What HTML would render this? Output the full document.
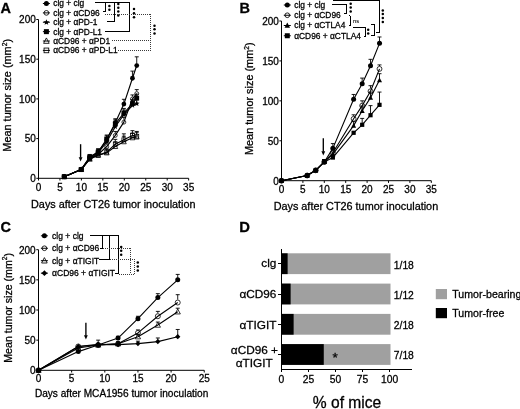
<!DOCTYPE html><html><head><meta charset="utf-8"><style>html,body{margin:0;padding:0;background:#fff;}svg{display:block;}</style></head><body>
<svg width="520" height="409" viewBox="0 0 520 409" font-family='"Liberation Sans", Arial, Helvetica, sans-serif' fill="#000"><style>text{stroke:#000;stroke-width:0.28px;}</style>
<rect width="520" height="409" fill="#fff"/>
<text x="0.60" y="12.80" font-size="14.5" text-anchor="start" font-weight="bold">A</text>
<line x1="38.50" y1="19.50" x2="38.50" y2="178.80" stroke="#000" stroke-width="1"/>
<line x1="38.00" y1="178.30" x2="188.65" y2="178.30" stroke="#000" stroke-width="1"/>
<line x1="36.30" y1="178.30" x2="38.50" y2="178.30" stroke="#000" stroke-width="1"/>
<text x="35.80" y="182.10" font-size="10" text-anchor="end" font-weight="normal">0</text>
<line x1="36.30" y1="138.60" x2="38.50" y2="138.60" stroke="#000" stroke-width="1"/>
<text x="35.80" y="142.40" font-size="10" text-anchor="end" font-weight="normal">50</text>
<line x1="36.30" y1="98.90" x2="38.50" y2="98.90" stroke="#000" stroke-width="1"/>
<text x="35.80" y="102.70" font-size="10" text-anchor="end" font-weight="normal">100</text>
<line x1="36.30" y1="59.20" x2="38.50" y2="59.20" stroke="#000" stroke-width="1"/>
<text x="35.80" y="63.00" font-size="10" text-anchor="end" font-weight="normal">150</text>
<line x1="36.30" y1="19.50" x2="38.50" y2="19.50" stroke="#000" stroke-width="1"/>
<text x="35.80" y="23.30" font-size="10" text-anchor="end" font-weight="normal">200</text>
<line x1="38.50" y1="178.30" x2="38.50" y2="180.50" stroke="#000" stroke-width="1"/>
<text x="38.50" y="190.80" font-size="10" text-anchor="middle" font-weight="normal">0</text>
<line x1="59.95" y1="178.30" x2="59.95" y2="180.50" stroke="#000" stroke-width="1"/>
<text x="59.95" y="190.80" font-size="10" text-anchor="middle" font-weight="normal">5</text>
<line x1="81.40" y1="178.30" x2="81.40" y2="180.50" stroke="#000" stroke-width="1"/>
<text x="81.40" y="190.80" font-size="10" text-anchor="middle" font-weight="normal">10</text>
<line x1="102.85" y1="178.30" x2="102.85" y2="180.50" stroke="#000" stroke-width="1"/>
<text x="102.85" y="190.80" font-size="10" text-anchor="middle" font-weight="normal">15</text>
<line x1="124.30" y1="178.30" x2="124.30" y2="180.50" stroke="#000" stroke-width="1"/>
<text x="124.30" y="190.80" font-size="10" text-anchor="middle" font-weight="normal">20</text>
<line x1="145.75" y1="178.30" x2="145.75" y2="180.50" stroke="#000" stroke-width="1"/>
<text x="145.75" y="190.80" font-size="10" text-anchor="middle" font-weight="normal">25</text>
<line x1="167.20" y1="178.30" x2="167.20" y2="180.50" stroke="#000" stroke-width="1"/>
<text x="167.20" y="190.80" font-size="10" text-anchor="middle" font-weight="normal">30</text>
<line x1="188.65" y1="178.30" x2="188.65" y2="180.50" stroke="#000" stroke-width="1"/>
<text x="188.65" y="190.80" font-size="10" text-anchor="middle" font-weight="normal">35</text>
<text transform="translate(11.40,95.30) rotate(-90)" font-size="10.9" text-anchor="middle">Mean tumor size (mm<tspan font-size="6.76" dy="-4.14">2</tspan><tspan dy="4.14">)</tspan></text>
<text x="113.30" y="207.90" font-size="10.85" text-anchor="middle" font-weight="normal">Days after CT26 tumor inoculation</text>
<line x1="87.77" y1="156.07" x2="91.77" y2="156.07" stroke="#000" stroke-width="0.9"/>
<line x1="96.13" y1="152.89" x2="100.13" y2="152.89" stroke="#000" stroke-width="0.9"/>
<line x1="106.71" y1="149.70" x2="106.71" y2="148.92" stroke="#000" stroke-width="0.9"/>
<line x1="104.71" y1="148.92" x2="108.71" y2="148.92" stroke="#000" stroke-width="0.9"/>
<line x1="115.29" y1="141.76" x2="115.29" y2="139.39" stroke="#000" stroke-width="0.9"/>
<line x1="113.29" y1="139.39" x2="117.29" y2="139.39" stroke="#000" stroke-width="0.9"/>
<line x1="123.87" y1="137.39" x2="123.87" y2="133.84" stroke="#000" stroke-width="0.9"/>
<line x1="121.87" y1="133.84" x2="125.87" y2="133.84" stroke="#000" stroke-width="0.9"/>
<line x1="132.45" y1="133.02" x2="132.45" y2="130.66" stroke="#000" stroke-width="0.9"/>
<line x1="130.45" y1="130.66" x2="134.45" y2="130.66" stroke="#000" stroke-width="0.9"/>
<line x1="136.74" y1="133.82" x2="136.74" y2="131.45" stroke="#000" stroke-width="0.9"/>
<line x1="134.74" y1="131.45" x2="138.74" y2="131.45" stroke="#000" stroke-width="0.9"/>
<polyline points="64.24,176.71 81.19,169.57 89.77,158.45 98.13,155.27 106.71,152.10 115.29,144.16 123.87,139.79 132.45,135.42 136.74,136.22" fill="none" stroke="#000" stroke-width="1.15" stroke-linejoin="round"/>
<rect x="62.29" y="174.76" width="3.90" height="3.90" fill="none" stroke="#000" stroke-width="0.8"/>
<rect x="79.24" y="167.62" width="3.90" height="3.90" fill="none" stroke="#000" stroke-width="0.8"/>
<rect x="87.82" y="156.50" width="3.90" height="3.90" fill="none" stroke="#000" stroke-width="0.8"/>
<rect x="96.18" y="153.32" width="3.90" height="3.90" fill="none" stroke="#000" stroke-width="0.8"/>
<rect x="104.76" y="150.15" width="3.90" height="3.90" fill="none" stroke="#000" stroke-width="0.8"/>
<rect x="113.34" y="142.21" width="3.90" height="3.90" fill="none" stroke="#000" stroke-width="0.8"/>
<rect x="121.92" y="137.84" width="3.90" height="3.90" fill="none" stroke="#000" stroke-width="0.8"/>
<rect x="130.50" y="133.47" width="3.90" height="3.90" fill="none" stroke="#000" stroke-width="0.8"/>
<rect x="134.79" y="134.27" width="3.90" height="3.90" fill="none" stroke="#000" stroke-width="0.8"/>
<line x1="87.77" y1="156.86" x2="91.77" y2="156.86" stroke="#000" stroke-width="0.9"/>
<line x1="96.13" y1="152.89" x2="100.13" y2="152.89" stroke="#000" stroke-width="0.9"/>
<line x1="106.71" y1="150.49" x2="106.71" y2="149.72" stroke="#000" stroke-width="0.9"/>
<line x1="104.71" y1="149.72" x2="108.71" y2="149.72" stroke="#000" stroke-width="0.9"/>
<line x1="115.29" y1="144.14" x2="115.29" y2="141.78" stroke="#000" stroke-width="0.9"/>
<line x1="113.29" y1="141.78" x2="117.29" y2="141.78" stroke="#000" stroke-width="0.9"/>
<line x1="123.87" y1="139.38" x2="123.87" y2="136.22" stroke="#000" stroke-width="0.9"/>
<line x1="121.87" y1="136.22" x2="125.87" y2="136.22" stroke="#000" stroke-width="0.9"/>
<line x1="132.45" y1="135.41" x2="132.45" y2="133.04" stroke="#000" stroke-width="0.9"/>
<line x1="130.45" y1="133.04" x2="134.45" y2="133.04" stroke="#000" stroke-width="0.9"/>
<line x1="136.74" y1="134.61" x2="136.74" y2="132.25" stroke="#000" stroke-width="0.9"/>
<line x1="134.74" y1="132.25" x2="138.74" y2="132.25" stroke="#000" stroke-width="0.9"/>
<polyline points="64.24,176.71 81.19,169.57 89.77,159.24 98.13,155.27 106.71,152.89 115.29,146.54 123.87,141.78 132.45,137.81 136.74,137.01" fill="none" stroke="#000" stroke-width="1.15" stroke-linejoin="round"/>
<polygon points="64.24,174.07 66.64,178.69 61.84,178.69" fill="none" stroke="#000" stroke-width="0.8"/>
<polygon points="81.19,166.93 83.59,171.55 78.79,171.55" fill="none" stroke="#000" stroke-width="0.8"/>
<polygon points="89.77,156.60 92.17,161.22 87.37,161.22" fill="none" stroke="#000" stroke-width="0.8"/>
<polygon points="98.13,152.63 100.53,157.25 95.73,157.25" fill="none" stroke="#000" stroke-width="0.8"/>
<polygon points="106.71,150.25 109.11,154.87 104.31,154.87" fill="none" stroke="#000" stroke-width="0.8"/>
<polygon points="115.29,143.90 117.69,148.52 112.89,148.52" fill="none" stroke="#000" stroke-width="0.8"/>
<polygon points="123.87,139.14 126.27,143.76 121.47,143.76" fill="none" stroke="#000" stroke-width="0.8"/>
<polygon points="132.45,135.17 134.85,139.79 130.05,139.79" fill="none" stroke="#000" stroke-width="0.8"/>
<polygon points="136.74,134.37 139.14,138.99 134.34,138.99" fill="none" stroke="#000" stroke-width="0.8"/>
<line x1="87.77" y1="156.07" x2="91.77" y2="156.07" stroke="#000" stroke-width="0.9"/>
<line x1="98.13" y1="152.08" x2="98.13" y2="151.30" stroke="#000" stroke-width="0.9"/>
<line x1="96.13" y1="151.30" x2="100.13" y2="151.30" stroke="#000" stroke-width="0.9"/>
<line x1="106.71" y1="144.14" x2="106.71" y2="142.57" stroke="#000" stroke-width="0.9"/>
<line x1="104.71" y1="142.57" x2="108.71" y2="142.57" stroke="#000" stroke-width="0.9"/>
<line x1="115.29" y1="133.02" x2="115.29" y2="131.45" stroke="#000" stroke-width="0.9"/>
<line x1="113.29" y1="131.45" x2="117.29" y2="131.45" stroke="#000" stroke-width="0.9"/>
<line x1="123.87" y1="119.76" x2="123.87" y2="117.40" stroke="#000" stroke-width="0.9"/>
<line x1="121.87" y1="117.40" x2="125.87" y2="117.40" stroke="#000" stroke-width="0.9"/>
<line x1="132.45" y1="96.50" x2="132.45" y2="94.93" stroke="#000" stroke-width="0.9"/>
<line x1="130.45" y1="94.93" x2="134.45" y2="94.93" stroke="#000" stroke-width="0.9"/>
<line x1="136.74" y1="91.18" x2="136.74" y2="89.61" stroke="#000" stroke-width="0.9"/>
<line x1="134.74" y1="89.61" x2="138.74" y2="89.61" stroke="#000" stroke-width="0.9"/>
<polyline points="64.24,176.71 81.19,169.57 89.77,158.45 98.13,154.48 106.71,146.54 115.29,135.42 123.87,122.16 132.45,98.90 136.74,93.58" fill="none" stroke="#000" stroke-width="1.15" stroke-linejoin="round"/>
<circle cx="64.24" cy="176.71" r="1.95" fill="none" stroke="#000" stroke-width="0.8"/>
<circle cx="81.19" cy="169.57" r="1.95" fill="none" stroke="#000" stroke-width="0.8"/>
<circle cx="89.77" cy="158.45" r="1.95" fill="none" stroke="#000" stroke-width="0.8"/>
<circle cx="98.13" cy="154.48" r="1.95" fill="none" stroke="#000" stroke-width="0.8"/>
<circle cx="106.71" cy="146.54" r="1.95" fill="none" stroke="#000" stroke-width="0.8"/>
<circle cx="115.29" cy="135.42" r="1.95" fill="none" stroke="#000" stroke-width="0.8"/>
<circle cx="123.87" cy="122.16" r="1.95" fill="none" stroke="#000" stroke-width="0.8"/>
<circle cx="132.45" cy="98.90" r="1.95" fill="none" stroke="#000" stroke-width="0.8"/>
<circle cx="136.74" cy="93.58" r="1.95" fill="none" stroke="#000" stroke-width="0.8"/>
<line x1="89.77" y1="158.45" x2="89.77" y2="156.07" stroke="#000" stroke-width="0.9"/>
<line x1="87.77" y1="156.07" x2="91.77" y2="156.07" stroke="#000" stroke-width="0.9"/>
<line x1="98.13" y1="152.89" x2="98.13" y2="149.72" stroke="#000" stroke-width="0.9"/>
<line x1="96.13" y1="149.72" x2="100.13" y2="149.72" stroke="#000" stroke-width="0.9"/>
<line x1="106.71" y1="141.78" x2="106.71" y2="137.81" stroke="#000" stroke-width="0.9"/>
<line x1="104.71" y1="137.81" x2="108.71" y2="137.81" stroke="#000" stroke-width="0.9"/>
<line x1="115.29" y1="126.69" x2="115.29" y2="122.72" stroke="#000" stroke-width="0.9"/>
<line x1="113.29" y1="122.72" x2="117.29" y2="122.72" stroke="#000" stroke-width="0.9"/>
<line x1="123.87" y1="114.78" x2="123.87" y2="110.02" stroke="#000" stroke-width="0.9"/>
<line x1="121.87" y1="110.02" x2="125.87" y2="110.02" stroke="#000" stroke-width="0.9"/>
<line x1="132.45" y1="105.25" x2="132.45" y2="101.28" stroke="#000" stroke-width="0.9"/>
<line x1="130.45" y1="101.28" x2="134.45" y2="101.28" stroke="#000" stroke-width="0.9"/>
<line x1="136.74" y1="103.66" x2="136.74" y2="99.69" stroke="#000" stroke-width="0.9"/>
<line x1="134.74" y1="99.69" x2="138.74" y2="99.69" stroke="#000" stroke-width="0.9"/>
<polyline points="64.24,176.71 81.19,169.57 89.77,158.45 98.13,152.89 106.71,141.78 115.29,126.69 123.87,114.78 132.45,105.25 136.74,103.66" fill="none" stroke="#000" stroke-width="1.15" stroke-linejoin="round"/>
<polygon points="64.24,173.71 65.02,175.64 67.09,175.78 65.50,177.12 66.00,179.14 64.24,178.03 62.48,179.14 62.98,177.12 61.39,175.78 63.46,175.64" fill="#000"/>
<polygon points="81.19,166.57 81.96,168.50 84.04,168.64 82.44,169.97 82.95,171.99 81.19,170.89 79.42,171.99 79.93,169.97 78.33,168.64 80.41,168.50" fill="#000"/>
<polygon points="89.77,155.45 90.54,157.38 92.62,157.52 91.02,158.86 91.53,160.88 89.77,159.77 88.00,160.88 88.51,158.86 86.91,157.52 88.99,157.38" fill="#000"/>
<polygon points="98.13,149.89 98.91,151.82 100.98,151.96 99.39,153.30 99.89,155.32 98.13,154.21 96.37,155.32 96.88,153.30 95.28,151.96 97.36,151.82" fill="#000"/>
<polygon points="106.71,138.78 107.49,140.71 109.56,140.85 107.97,142.18 108.47,144.20 106.71,143.10 104.95,144.20 105.46,142.18 103.86,140.85 105.94,140.71" fill="#000"/>
<polygon points="115.29,123.69 116.07,125.62 118.14,125.76 116.55,127.10 117.05,129.12 115.29,128.01 113.53,129.12 114.04,127.10 112.44,125.76 114.52,125.62" fill="#000"/>
<polygon points="123.87,111.78 124.65,113.71 126.72,113.85 125.13,115.19 125.63,117.21 123.87,116.10 122.11,117.21 122.62,115.19 121.02,113.85 123.10,113.71" fill="#000"/>
<polygon points="132.45,102.25 133.23,104.18 135.30,104.32 133.71,105.66 134.21,107.68 132.45,106.57 130.69,107.68 131.20,105.66 129.60,104.32 131.68,104.18" fill="#000"/>
<polygon points="136.74,100.66 137.52,102.60 139.59,102.74 138.00,104.07 138.50,106.09 136.74,104.98 134.98,106.09 135.49,104.07 133.89,102.74 135.97,102.60" fill="#000"/>
<line x1="89.77" y1="156.86" x2="89.77" y2="154.48" stroke="#000" stroke-width="0.9"/>
<line x1="87.77" y1="154.48" x2="91.77" y2="154.48" stroke="#000" stroke-width="0.9"/>
<line x1="98.13" y1="152.10" x2="98.13" y2="148.92" stroke="#000" stroke-width="0.9"/>
<line x1="96.13" y1="148.92" x2="100.13" y2="148.92" stroke="#000" stroke-width="0.9"/>
<line x1="106.71" y1="139.00" x2="106.71" y2="135.03" stroke="#000" stroke-width="0.9"/>
<line x1="104.71" y1="135.03" x2="108.71" y2="135.03" stroke="#000" stroke-width="0.9"/>
<line x1="115.29" y1="123.83" x2="115.29" y2="119.86" stroke="#000" stroke-width="0.9"/>
<line x1="113.29" y1="119.86" x2="117.29" y2="119.86" stroke="#000" stroke-width="0.9"/>
<line x1="123.87" y1="113.19" x2="123.87" y2="108.43" stroke="#000" stroke-width="0.9"/>
<line x1="121.87" y1="108.43" x2="125.87" y2="108.43" stroke="#000" stroke-width="0.9"/>
<line x1="132.45" y1="103.66" x2="132.45" y2="99.69" stroke="#000" stroke-width="0.9"/>
<line x1="130.45" y1="99.69" x2="134.45" y2="99.69" stroke="#000" stroke-width="0.9"/>
<line x1="136.74" y1="98.11" x2="136.74" y2="94.14" stroke="#000" stroke-width="0.9"/>
<line x1="134.74" y1="94.14" x2="138.74" y2="94.14" stroke="#000" stroke-width="0.9"/>
<polyline points="64.24,176.71 81.19,169.57 89.77,156.86 98.13,152.10 106.71,139.00 115.29,123.83 123.87,113.19 132.45,103.66 136.74,98.11" fill="none" stroke="#000" stroke-width="1.15" stroke-linejoin="round"/>
<rect x="61.84" y="174.31" width="4.80" height="4.80" fill="#000"/>
<rect x="78.79" y="167.17" width="4.80" height="4.80" fill="#000"/>
<rect x="87.37" y="154.46" width="4.80" height="4.80" fill="#000"/>
<rect x="95.73" y="149.70" width="4.80" height="4.80" fill="#000"/>
<rect x="104.31" y="136.60" width="4.80" height="4.80" fill="#000"/>
<rect x="112.89" y="121.43" width="4.80" height="4.80" fill="#000"/>
<rect x="121.47" y="110.79" width="4.80" height="4.80" fill="#000"/>
<rect x="130.05" y="101.26" width="4.80" height="4.80" fill="#000"/>
<rect x="134.34" y="95.71" width="4.80" height="4.80" fill="#000"/>
<line x1="89.77" y1="157.66" x2="89.77" y2="155.27" stroke="#000" stroke-width="0.9"/>
<line x1="87.77" y1="155.27" x2="91.77" y2="155.27" stroke="#000" stroke-width="0.9"/>
<line x1="98.13" y1="152.10" x2="98.13" y2="148.92" stroke="#000" stroke-width="0.9"/>
<line x1="96.13" y1="148.92" x2="100.13" y2="148.92" stroke="#000" stroke-width="0.9"/>
<line x1="106.71" y1="139.79" x2="106.71" y2="135.82" stroke="#000" stroke-width="0.9"/>
<line x1="104.71" y1="135.82" x2="108.71" y2="135.82" stroke="#000" stroke-width="0.9"/>
<line x1="115.29" y1="122.72" x2="115.29" y2="118.75" stroke="#000" stroke-width="0.9"/>
<line x1="113.29" y1="118.75" x2="117.29" y2="118.75" stroke="#000" stroke-width="0.9"/>
<line x1="123.87" y1="104.06" x2="123.87" y2="99.30" stroke="#000" stroke-width="0.9"/>
<line x1="121.87" y1="99.30" x2="125.87" y2="99.30" stroke="#000" stroke-width="0.9"/>
<line x1="132.45" y1="78.26" x2="132.45" y2="71.11" stroke="#000" stroke-width="0.9"/>
<line x1="130.45" y1="71.11" x2="134.45" y2="71.11" stroke="#000" stroke-width="0.9"/>
<line x1="136.74" y1="65.55" x2="136.74" y2="56.82" stroke="#000" stroke-width="0.9"/>
<line x1="134.74" y1="56.82" x2="138.74" y2="56.82" stroke="#000" stroke-width="0.9"/>
<polyline points="64.24,176.71 81.19,169.57 89.77,157.66 98.13,152.10 106.71,139.79 115.29,122.72 123.87,104.06 132.45,78.26 136.74,65.55" fill="none" stroke="#000" stroke-width="1.15" stroke-linejoin="round"/>
<circle cx="64.24" cy="176.71" r="2.40" fill="#000"/>
<circle cx="81.19" cy="169.57" r="2.40" fill="#000"/>
<circle cx="89.77" cy="157.66" r="2.40" fill="#000"/>
<circle cx="98.13" cy="152.10" r="2.40" fill="#000"/>
<circle cx="106.71" cy="139.79" r="2.40" fill="#000"/>
<circle cx="115.29" cy="122.72" r="2.40" fill="#000"/>
<circle cx="123.87" cy="104.06" r="2.40" fill="#000"/>
<circle cx="132.45" cy="78.26" r="2.40" fill="#000"/>
<circle cx="136.74" cy="65.55" r="2.40" fill="#000"/>
<line x1="80.60" y1="144.20" x2="80.60" y2="157.70" stroke="#000" stroke-width="1.35"/>
<polygon points="78.70,157.20 82.50,157.20 80.60,161.50" fill="#000"/>
<line x1="42.90" y1="3.50" x2="49.90" y2="3.50" stroke="#000" stroke-width="1"/>
<circle cx="46.40" cy="3.50" r="2.50" fill="#000"/>
<text x="53.20" y="6.44" font-size="8.4" text-anchor="start" font-weight="normal">clg + clg</text>
<line x1="42.90" y1="12.88" x2="49.90" y2="12.88" stroke="#000" stroke-width="1"/>
<circle cx="46.40" cy="12.88" r="2.35" fill="none" stroke="#000" stroke-width="0.85"/>
<text x="53.20" y="15.82" font-size="8.4" text-anchor="start" font-weight="normal">clg + αCD96</text>
<line x1="42.90" y1="22.26" x2="49.90" y2="22.26" stroke="#000" stroke-width="1"/>
<polygon points="46.40,19.14 47.21,21.15 49.37,21.29 47.71,22.68 48.24,24.79 46.40,23.64 44.56,24.79 45.09,22.68 43.43,21.29 45.59,21.15" fill="#000"/>
<text x="53.20" y="25.20" font-size="8.4" text-anchor="start" font-weight="normal"> clg + αPD-1</text>
<line x1="42.90" y1="31.64" x2="49.90" y2="31.64" stroke="#000" stroke-width="1"/>
<rect x="43.90" y="29.14" width="5.00" height="5.00" fill="#000"/>
<text x="53.20" y="34.58" font-size="8.4" text-anchor="start" font-weight="normal">clg + αPD-L1</text>
<line x1="42.90" y1="41.02" x2="49.90" y2="41.02" stroke="#000" stroke-width="1"/>
<polygon points="46.40,37.94 49.20,43.33 43.60,43.33" fill="none" stroke="#000" stroke-width="0.85"/>
<text x="53.20" y="43.96" font-size="8.4" text-anchor="start" font-weight="normal">αCD96 + αPD1</text>
<line x1="42.90" y1="50.40" x2="49.90" y2="50.40" stroke="#000" stroke-width="1"/>
<rect x="44.05" y="48.05" width="4.70" height="4.70" fill="none" stroke="#000" stroke-width="0.85"/>
<text x="53.20" y="53.34" font-size="8.4" text-anchor="start" font-weight="normal">αCD96 + αPD-L1</text>
<line x1="95" y1="2.5" x2="129" y2="2.5" stroke="#000" stroke-width="1"/>
<line x1="105.5" y1="2" x2="105.5" y2="12" stroke="#000" stroke-width="1"/>
<line x1="103" y1="11.5" x2="106" y2="11.5" stroke="#000" stroke-width="1"/>
<line x1="114.5" y1="2" x2="114.5" y2="22" stroke="#000" stroke-width="1"/>
<line x1="107" y1="21.5" x2="115" y2="21.5" stroke="#000" stroke-width="1"/>
<line x1="129.5" y1="2" x2="129.5" y2="32" stroke="#000" stroke-width="1"/>
<line x1="105" y1="31.5" x2="130" y2="31.5" stroke="#000" stroke-width="1"/>
<circle cx="109.40" cy="6.10" r="1.25" fill="#000"/>
<circle cx="109.40" cy="9.80" r="1.25" fill="#000"/>
<circle cx="118.30" cy="4.00" r="1.25" fill="#000"/>
<circle cx="118.30" cy="7.70" r="1.25" fill="#000"/>
<circle cx="118.30" cy="11.60" r="1.25" fill="#000"/>
<circle cx="118.30" cy="15.50" r="1.25" fill="#000"/>
<circle cx="134.00" cy="9.10" r="1.25" fill="#000"/>
<circle cx="134.00" cy="13.20" r="1.25" fill="#000"/>
<circle cx="134.00" cy="17.20" r="1.25" fill="#000"/>
<circle cx="154.50" cy="25.70" r="1.25" fill="#000"/>
<circle cx="154.50" cy="29.30" r="1.25" fill="#000"/>
<circle cx="154.50" cy="33.40" r="1.25" fill="#000"/>
<line x1="105" y1="14.5" x2="150" y2="14.5" stroke="#3a3a3a" stroke-width="1" stroke-dasharray="1,1"/>
<line x1="150.5" y1="14" x2="150.5" y2="51" stroke="#3a3a3a" stroke-width="1" stroke-dasharray="1,1"/>
<line x1="112" y1="40.5" x2="150" y2="40.5" stroke="#3a3a3a" stroke-width="1" stroke-dasharray="1,1"/>
<line x1="118" y1="50.5" x2="150" y2="50.5" stroke="#3a3a3a" stroke-width="1" stroke-dasharray="1,1"/>
<text x="239.40" y="12.80" font-size="14.5" text-anchor="start" font-weight="bold">B</text>
<line x1="281.50" y1="21.00" x2="281.50" y2="181.20" stroke="#000" stroke-width="1"/>
<line x1="281.00" y1="180.70" x2="431.30" y2="180.70" stroke="#000" stroke-width="1"/>
<line x1="279.30" y1="180.70" x2="281.50" y2="180.70" stroke="#000" stroke-width="1"/>
<text x="278.90" y="184.50" font-size="10" text-anchor="end" font-weight="normal">0</text>
<line x1="279.30" y1="140.77" x2="281.50" y2="140.77" stroke="#000" stroke-width="1"/>
<text x="278.90" y="144.57" font-size="10" text-anchor="end" font-weight="normal">50</text>
<line x1="279.30" y1="100.85" x2="281.50" y2="100.85" stroke="#000" stroke-width="1"/>
<text x="278.90" y="104.65" font-size="10" text-anchor="end" font-weight="normal">100</text>
<line x1="279.30" y1="60.92" x2="281.50" y2="60.92" stroke="#000" stroke-width="1"/>
<text x="278.90" y="64.72" font-size="10" text-anchor="end" font-weight="normal">150</text>
<line x1="279.30" y1="21.00" x2="281.50" y2="21.00" stroke="#000" stroke-width="1"/>
<text x="278.90" y="24.80" font-size="10" text-anchor="end" font-weight="normal">200</text>
<line x1="281.50" y1="180.70" x2="281.50" y2="182.90" stroke="#000" stroke-width="1"/>
<text x="281.50" y="192.50" font-size="10" text-anchor="middle" font-weight="normal">0</text>
<line x1="302.90" y1="180.70" x2="302.90" y2="182.90" stroke="#000" stroke-width="1"/>
<text x="302.90" y="192.50" font-size="10" text-anchor="middle" font-weight="normal">5</text>
<line x1="324.30" y1="180.70" x2="324.30" y2="182.90" stroke="#000" stroke-width="1"/>
<text x="324.30" y="192.50" font-size="10" text-anchor="middle" font-weight="normal">10</text>
<line x1="345.70" y1="180.70" x2="345.70" y2="182.90" stroke="#000" stroke-width="1"/>
<text x="345.70" y="192.50" font-size="10" text-anchor="middle" font-weight="normal">15</text>
<line x1="367.10" y1="180.70" x2="367.10" y2="182.90" stroke="#000" stroke-width="1"/>
<text x="367.10" y="192.50" font-size="10" text-anchor="middle" font-weight="normal">20</text>
<line x1="388.50" y1="180.70" x2="388.50" y2="182.90" stroke="#000" stroke-width="1"/>
<text x="388.50" y="192.50" font-size="10" text-anchor="middle" font-weight="normal">25</text>
<line x1="409.90" y1="180.70" x2="409.90" y2="182.90" stroke="#000" stroke-width="1"/>
<text x="409.90" y="192.50" font-size="10" text-anchor="middle" font-weight="normal">30</text>
<line x1="431.30" y1="180.70" x2="431.30" y2="182.90" stroke="#000" stroke-width="1"/>
<text x="431.30" y="192.50" font-size="10" text-anchor="middle" font-weight="normal">35</text>
<text transform="translate(253.40,98.70) rotate(-90)" font-size="10.9" text-anchor="middle">Mean tumor size (mm<tspan font-size="6.76" dy="-4.14">2</tspan><tspan dy="4.14">)</tspan></text>
<text x="355.90" y="210.30" font-size="10.85" text-anchor="middle" font-weight="normal">Days after CT26 tumor inoculation</text>
<line x1="324.30" y1="161.94" x2="324.30" y2="159.54" stroke="#000" stroke-width="0.9"/>
<line x1="322.30" y1="159.54" x2="326.30" y2="159.54" stroke="#000" stroke-width="0.9"/>
<line x1="332.86" y1="157.54" x2="332.86" y2="155.15" stroke="#000" stroke-width="0.9"/>
<line x1="330.86" y1="155.15" x2="334.86" y2="155.15" stroke="#000" stroke-width="0.9"/>
<line x1="362.18" y1="124.80" x2="362.18" y2="118.42" stroke="#000" stroke-width="0.9"/>
<line x1="360.18" y1="118.42" x2="364.18" y2="118.42" stroke="#000" stroke-width="0.9"/>
<line x1="370.52" y1="115.22" x2="370.52" y2="105.64" stroke="#000" stroke-width="0.9"/>
<line x1="368.52" y1="105.64" x2="372.52" y2="105.64" stroke="#000" stroke-width="0.9"/>
<line x1="379.51" y1="104.84" x2="379.51" y2="92.07" stroke="#000" stroke-width="0.9"/>
<line x1="377.51" y1="92.07" x2="381.51" y2="92.07" stroke="#000" stroke-width="0.9"/>
<polyline points="281.50,180.70 307.18,175.51 315.74,170.32 324.30,161.94 332.86,157.54 353.62,132.79 362.18,124.80 370.52,115.22 379.51,104.84" fill="none" stroke="#000" stroke-width="1.1" stroke-linejoin="round"/>
<rect x="279.40" y="178.60" width="4.20" height="4.20" fill="#000"/>
<rect x="305.08" y="173.41" width="4.20" height="4.20" fill="#000"/>
<rect x="313.64" y="168.22" width="4.20" height="4.20" fill="#000"/>
<rect x="322.20" y="159.84" width="4.20" height="4.20" fill="#000"/>
<rect x="330.76" y="155.44" width="4.20" height="4.20" fill="#000"/>
<rect x="351.52" y="130.69" width="4.20" height="4.20" fill="#000"/>
<rect x="360.08" y="122.70" width="4.20" height="4.20" fill="#000"/>
<rect x="368.42" y="113.12" width="4.20" height="4.20" fill="#000"/>
<rect x="377.41" y="102.74" width="4.20" height="4.20" fill="#000"/>
<line x1="324.30" y1="161.94" x2="324.30" y2="159.54" stroke="#000" stroke-width="0.9"/>
<line x1="322.30" y1="159.54" x2="326.30" y2="159.54" stroke="#000" stroke-width="0.9"/>
<line x1="332.86" y1="154.35" x2="332.86" y2="151.95" stroke="#000" stroke-width="0.9"/>
<line x1="330.86" y1="151.95" x2="334.86" y2="151.95" stroke="#000" stroke-width="0.9"/>
<line x1="353.62" y1="125.60" x2="353.62" y2="121.61" stroke="#000" stroke-width="0.9"/>
<line x1="351.62" y1="121.61" x2="355.62" y2="121.61" stroke="#000" stroke-width="0.9"/>
<line x1="362.18" y1="110.83" x2="362.18" y2="106.04" stroke="#000" stroke-width="0.9"/>
<line x1="360.18" y1="106.04" x2="364.18" y2="106.04" stroke="#000" stroke-width="0.9"/>
<line x1="370.52" y1="97.66" x2="370.52" y2="92.07" stroke="#000" stroke-width="0.9"/>
<line x1="368.52" y1="92.07" x2="372.52" y2="92.07" stroke="#000" stroke-width="0.9"/>
<line x1="379.51" y1="80.09" x2="379.51" y2="73.70" stroke="#000" stroke-width="0.9"/>
<line x1="377.51" y1="73.70" x2="381.51" y2="73.70" stroke="#000" stroke-width="0.9"/>
<polyline points="281.50,180.70 307.18,175.51 315.74,170.32 324.30,161.94 332.86,154.35 353.62,125.60 362.18,110.83 370.52,97.66 379.51,80.09" fill="none" stroke="#000" stroke-width="1.1" stroke-linejoin="round"/>
<polygon points="281.50,178.05 284.03,182.82 278.97,182.82" fill="#000"/>
<polygon points="307.18,172.86 309.71,177.63 304.65,177.63" fill="#000"/>
<polygon points="315.74,167.67 318.27,172.44 313.21,172.44" fill="#000"/>
<polygon points="324.30,159.29 326.83,164.05 321.77,164.05" fill="#000"/>
<polygon points="332.86,151.70 335.39,156.47 330.33,156.47" fill="#000"/>
<polygon points="353.62,122.96 356.15,127.72 351.09,127.72" fill="#000"/>
<polygon points="362.18,108.19 364.71,112.95 359.65,112.95" fill="#000"/>
<polygon points="370.52,95.01 373.05,99.77 367.99,99.77" fill="#000"/>
<polygon points="379.51,77.44 382.04,82.20 376.98,82.20" fill="#000"/>
<line x1="322.30" y1="159.54" x2="326.30" y2="159.54" stroke="#000" stroke-width="0.9"/>
<line x1="332.86" y1="149.85" x2="332.86" y2="149.56" stroke="#000" stroke-width="0.9"/>
<line x1="330.86" y1="149.56" x2="334.86" y2="149.56" stroke="#000" stroke-width="0.9"/>
<line x1="353.62" y1="115.92" x2="353.62" y2="114.82" stroke="#000" stroke-width="0.9"/>
<line x1="351.62" y1="114.82" x2="355.62" y2="114.82" stroke="#000" stroke-width="0.9"/>
<line x1="362.18" y1="102.74" x2="362.18" y2="100.85" stroke="#000" stroke-width="0.9"/>
<line x1="360.18" y1="100.85" x2="364.18" y2="100.85" stroke="#000" stroke-width="0.9"/>
<line x1="370.52" y1="88.37" x2="370.52" y2="85.68" stroke="#000" stroke-width="0.9"/>
<line x1="368.52" y1="85.68" x2="372.52" y2="85.68" stroke="#000" stroke-width="0.9"/>
<line x1="379.51" y1="66.01" x2="379.51" y2="64.92" stroke="#000" stroke-width="0.9"/>
<line x1="377.51" y1="64.92" x2="381.51" y2="64.92" stroke="#000" stroke-width="0.9"/>
<polyline points="281.50,180.70 307.18,175.51 315.74,170.32 324.30,161.94 332.86,152.75 353.62,118.82 362.18,105.64 370.52,91.27 379.51,68.91" fill="none" stroke="#000" stroke-width="1.1" stroke-linejoin="round"/>
<circle cx="281.50" cy="180.70" r="2.45" fill="none" stroke="#000" stroke-width="0.8"/>
<circle cx="307.18" cy="175.51" r="2.45" fill="none" stroke="#000" stroke-width="0.8"/>
<circle cx="315.74" cy="170.32" r="2.45" fill="none" stroke="#000" stroke-width="0.8"/>
<circle cx="324.30" cy="161.94" r="2.45" fill="none" stroke="#000" stroke-width="0.8"/>
<circle cx="332.86" cy="152.75" r="2.45" fill="none" stroke="#000" stroke-width="0.8"/>
<circle cx="353.62" cy="118.82" r="2.45" fill="none" stroke="#000" stroke-width="0.8"/>
<circle cx="362.18" cy="105.64" r="2.45" fill="none" stroke="#000" stroke-width="0.8"/>
<circle cx="370.52" cy="91.27" r="2.45" fill="none" stroke="#000" stroke-width="0.8"/>
<circle cx="379.51" cy="68.91" r="2.45" fill="none" stroke="#000" stroke-width="0.8"/>
<line x1="324.30" y1="161.94" x2="324.30" y2="159.54" stroke="#000" stroke-width="0.9"/>
<line x1="322.30" y1="159.54" x2="326.30" y2="159.54" stroke="#000" stroke-width="0.9"/>
<line x1="332.86" y1="148.36" x2="332.86" y2="143.57" stroke="#000" stroke-width="0.9"/>
<line x1="330.86" y1="143.57" x2="334.86" y2="143.57" stroke="#000" stroke-width="0.9"/>
<line x1="353.62" y1="99.25" x2="353.62" y2="94.46" stroke="#000" stroke-width="0.9"/>
<line x1="351.62" y1="94.46" x2="355.62" y2="94.46" stroke="#000" stroke-width="0.9"/>
<line x1="362.18" y1="83.68" x2="362.18" y2="78.09" stroke="#000" stroke-width="0.9"/>
<line x1="360.18" y1="78.09" x2="364.18" y2="78.09" stroke="#000" stroke-width="0.9"/>
<line x1="370.52" y1="65.72" x2="370.52" y2="59.33" stroke="#000" stroke-width="0.9"/>
<line x1="368.52" y1="59.33" x2="372.52" y2="59.33" stroke="#000" stroke-width="0.9"/>
<line x1="379.51" y1="43.36" x2="379.51" y2="36.97" stroke="#000" stroke-width="0.9"/>
<line x1="377.51" y1="36.97" x2="381.51" y2="36.97" stroke="#000" stroke-width="0.9"/>
<polyline points="281.50,180.70 307.18,175.51 315.74,170.32 324.30,161.94 332.86,148.36 353.62,99.25 362.18,83.68 370.52,65.72 379.51,43.36" fill="none" stroke="#000" stroke-width="1.1" stroke-linejoin="round"/>
<circle cx="281.50" cy="180.70" r="2.50" fill="#000"/>
<circle cx="307.18" cy="175.51" r="2.50" fill="#000"/>
<circle cx="315.74" cy="170.32" r="2.50" fill="#000"/>
<circle cx="324.30" cy="161.94" r="2.50" fill="#000"/>
<circle cx="332.86" cy="148.36" r="2.50" fill="#000"/>
<circle cx="353.62" cy="99.25" r="2.50" fill="#000"/>
<circle cx="362.18" cy="83.68" r="2.50" fill="#000"/>
<circle cx="370.52" cy="65.72" r="2.50" fill="#000"/>
<circle cx="379.51" cy="43.36" r="2.50" fill="#000"/>
<line x1="323.30" y1="138.30" x2="323.30" y2="151.70" stroke="#000" stroke-width="1.35"/>
<polygon points="321.40,151.20 325.20,151.20 323.30,155.50" fill="#000"/>
<line x1="283.80" y1="5.00" x2="290.80" y2="5.00" stroke="#000" stroke-width="1"/>
<circle cx="287.30" cy="5.00" r="2.50" fill="#000"/>
<text x="294.20" y="7.94" font-size="8.4" text-anchor="start" font-weight="normal">clg + clg</text>
<line x1="283.80" y1="15.25" x2="290.80" y2="15.25" stroke="#000" stroke-width="1"/>
<circle cx="287.30" cy="15.25" r="2.35" fill="none" stroke="#000" stroke-width="0.85"/>
<text x="294.20" y="18.19" font-size="8.4" text-anchor="start" font-weight="normal">clg + αCD96</text>
<line x1="283.80" y1="25.50" x2="290.80" y2="25.50" stroke="#000" stroke-width="1"/>
<polygon points="287.30,22.62 290.05,27.80 284.55,27.80" fill="#000"/>
<text x="294.20" y="28.44" font-size="8.4" text-anchor="start" font-weight="normal"> clg + αCTLA4</text>
<line x1="283.80" y1="35.75" x2="290.80" y2="35.75" stroke="#000" stroke-width="1"/>
<rect x="284.80" y="33.25" width="5.00" height="5.00" fill="#000"/>
<text x="294.20" y="38.69" font-size="8.4" text-anchor="start" font-weight="normal"> αCD96 + αCTLA4</text>
<line x1="333" y1="0.5" x2="380" y2="0.5" stroke="#000" stroke-width="1"/>
<line x1="379.5" y1="0" x2="379.5" y2="33" stroke="#000" stroke-width="1"/>
<line x1="376" y1="32.5" x2="380" y2="32.5" stroke="#000" stroke-width="1"/>
<circle cx="382.80" cy="10.40" r="1.25" fill="#000"/>
<circle cx="382.80" cy="13.90" r="1.25" fill="#000"/>
<circle cx="382.80" cy="17.90" r="1.25" fill="#000"/>
<circle cx="382.80" cy="21.90" r="1.25" fill="#000"/>
<line x1="332" y1="4.5" x2="347" y2="4.5" stroke="#000" stroke-width="1"/>
<line x1="346.5" y1="4" x2="346.5" y2="14" stroke="#000" stroke-width="1"/>
<line x1="344" y1="13.5" x2="347" y2="13.5" stroke="#000" stroke-width="1"/>
<circle cx="350.70" cy="3.70" r="1.25" fill="#000"/>
<circle cx="350.70" cy="7.40" r="1.25" fill="#000"/>
<circle cx="350.70" cy="11.40" r="1.25" fill="#000"/>
<line x1="350.5" y1="16" x2="350.5" y2="26" stroke="#000" stroke-width="1"/>
<line x1="349" y1="15.5" x2="350" y2="15.5" stroke="#000" stroke-width="1"/>
<line x1="349" y1="25.5" x2="350" y2="25.5" stroke="#000" stroke-width="1"/>
<text x="353.10" y="22.50" font-size="5.7" text-anchor="start" font-weight="normal" style="stroke-width:0.1px">ns</text>
<line x1="353" y1="27.5" x2="366" y2="27.5" stroke="#000" stroke-width="1"/>
<line x1="365.5" y1="27" x2="365.5" y2="37" stroke="#000" stroke-width="1"/>
<line x1="364" y1="36.5" x2="366" y2="36.5" stroke="#000" stroke-width="1"/>
<circle cx="368.20" cy="29.70" r="1.25" fill="#000"/>
<circle cx="368.20" cy="33.60" r="1.25" fill="#000"/>
<line x1="371" y1="24.5" x2="374" y2="24.5" stroke="#000" stroke-width="1"/>
<line x1="374.5" y1="24" x2="374.5" y2="36" stroke="#000" stroke-width="1"/>
<line x1="371" y1="35.5" x2="374" y2="35.5" stroke="#000" stroke-width="1"/>
<text x="0.60" y="232.30" font-size="14.5" text-anchor="start" font-weight="bold">C</text>
<line x1="38.50" y1="249.70" x2="38.50" y2="370.80" stroke="#000" stroke-width="1"/>
<line x1="38.00" y1="370.30" x2="204.25" y2="370.30" stroke="#000" stroke-width="1"/>
<line x1="36.30" y1="370.30" x2="38.50" y2="370.30" stroke="#000" stroke-width="1"/>
<text x="35.60" y="374.10" font-size="10" text-anchor="end" font-weight="normal">0</text>
<line x1="36.30" y1="340.15" x2="38.50" y2="340.15" stroke="#000" stroke-width="1"/>
<text x="35.60" y="343.95" font-size="10" text-anchor="end" font-weight="normal">50</text>
<line x1="36.30" y1="310.00" x2="38.50" y2="310.00" stroke="#000" stroke-width="1"/>
<text x="35.60" y="313.80" font-size="10" text-anchor="end" font-weight="normal">100</text>
<line x1="36.30" y1="279.85" x2="38.50" y2="279.85" stroke="#000" stroke-width="1"/>
<text x="35.60" y="283.65" font-size="10" text-anchor="end" font-weight="normal">150</text>
<line x1="36.30" y1="249.70" x2="38.50" y2="249.70" stroke="#000" stroke-width="1"/>
<text x="35.60" y="253.50" font-size="10" text-anchor="end" font-weight="normal">200</text>
<line x1="38.50" y1="370.30" x2="38.50" y2="372.50" stroke="#000" stroke-width="1"/>
<text x="38.50" y="382.40" font-size="10" text-anchor="middle" font-weight="normal">0</text>
<line x1="71.65" y1="370.30" x2="71.65" y2="372.50" stroke="#000" stroke-width="1"/>
<text x="71.65" y="382.40" font-size="10" text-anchor="middle" font-weight="normal">5</text>
<line x1="104.80" y1="370.30" x2="104.80" y2="372.50" stroke="#000" stroke-width="1"/>
<text x="104.80" y="382.40" font-size="10" text-anchor="middle" font-weight="normal">10</text>
<line x1="137.95" y1="370.30" x2="137.95" y2="372.50" stroke="#000" stroke-width="1"/>
<text x="137.95" y="382.40" font-size="10" text-anchor="middle" font-weight="normal">15</text>
<line x1="171.10" y1="370.30" x2="171.10" y2="372.50" stroke="#000" stroke-width="1"/>
<text x="171.10" y="382.40" font-size="10" text-anchor="middle" font-weight="normal">20</text>
<line x1="204.25" y1="370.30" x2="204.25" y2="372.50" stroke="#000" stroke-width="1"/>
<text x="204.25" y="382.40" font-size="10" text-anchor="middle" font-weight="normal">25</text>
<text transform="translate(11.50,307.90) rotate(-90)" font-size="10.6" text-anchor="middle">Mean tumor size (mm<tspan font-size="6.57" dy="-4.03">2</tspan><tspan dy="4.03">)</tspan></text>
<text x="121.60" y="396.60" font-size="10.1" text-anchor="middle" font-weight="normal">Days after MCA1956 tumor inoculation</text>
<line x1="118.06" y1="344.61" x2="118.06" y2="342.80" stroke="#000" stroke-width="0.9"/>
<line x1="116.06" y1="342.80" x2="120.06" y2="342.80" stroke="#000" stroke-width="0.9"/>
<line x1="137.95" y1="343.59" x2="137.95" y2="341.18" stroke="#000" stroke-width="0.9"/>
<line x1="135.95" y1="341.18" x2="139.95" y2="341.18" stroke="#000" stroke-width="0.9"/>
<line x1="157.84" y1="341.60" x2="157.84" y2="337.98" stroke="#000" stroke-width="0.9"/>
<line x1="155.84" y1="337.98" x2="159.84" y2="337.98" stroke="#000" stroke-width="0.9"/>
<line x1="177.73" y1="336.71" x2="177.73" y2="329.48" stroke="#000" stroke-width="0.9"/>
<line x1="175.73" y1="329.48" x2="179.73" y2="329.48" stroke="#000" stroke-width="0.9"/>
<polyline points="38.50,370.30 78.28,346.48 98.17,344.37 118.06,344.61 137.95,343.59 157.84,341.60 177.73,336.71" fill="none" stroke="#000" stroke-width="1.1" stroke-linejoin="round"/>
<polygon points="38.50,367.66 41.14,370.30 38.50,372.94 35.86,370.30" fill="#000"/>
<polygon points="78.28,343.84 80.92,346.48 78.28,349.13 75.64,346.48" fill="#000"/>
<polygon points="98.17,341.73 100.81,344.37 98.17,347.02 95.53,344.37" fill="#000"/>
<polygon points="118.06,341.97 120.70,344.61 118.06,347.26 115.42,344.61" fill="#000"/>
<polygon points="137.95,340.94 140.59,343.59 137.95,346.23 135.30,343.59" fill="#000"/>
<polygon points="157.84,338.95 160.49,341.60 157.84,344.24 155.19,341.60" fill="#000"/>
<polygon points="177.73,334.07 180.38,336.71 177.73,339.36 175.08,336.71" fill="#000"/>
<line x1="116.06" y1="341.96" x2="120.06" y2="341.96" stroke="#000" stroke-width="0.9"/>
<line x1="135.95" y1="334.30" x2="139.95" y2="334.30" stroke="#000" stroke-width="0.9"/>
<line x1="157.84" y1="322.47" x2="157.84" y2="322.06" stroke="#000" stroke-width="0.9"/>
<line x1="155.84" y1="322.06" x2="159.84" y2="322.06" stroke="#000" stroke-width="0.9"/>
<line x1="177.73" y1="309.21" x2="177.73" y2="308.19" stroke="#000" stroke-width="0.9"/>
<line x1="175.73" y1="308.19" x2="179.73" y2="308.19" stroke="#000" stroke-width="0.9"/>
<polyline points="38.50,370.30 78.28,347.99 98.17,344.97 118.06,343.77 137.95,336.71 157.84,325.07 177.73,311.81" fill="none" stroke="#000" stroke-width="1.1" stroke-linejoin="round"/>
<polygon points="38.50,367.44 41.10,372.44 35.90,372.44" fill="none" stroke="#000" stroke-width="0.8"/>
<polygon points="78.28,345.13 80.88,350.13 75.68,350.13" fill="none" stroke="#000" stroke-width="0.8"/>
<polygon points="98.17,342.11 100.77,347.12 95.57,347.12" fill="none" stroke="#000" stroke-width="0.8"/>
<polygon points="118.06,340.91 120.66,345.91 115.46,345.91" fill="none" stroke="#000" stroke-width="0.8"/>
<polygon points="137.95,333.85 140.55,338.86 135.35,338.86" fill="none" stroke="#000" stroke-width="0.8"/>
<polygon points="157.84,322.21 160.44,327.22 155.24,327.22" fill="none" stroke="#000" stroke-width="0.8"/>
<polygon points="177.73,308.95 180.33,313.95 175.13,313.95" fill="none" stroke="#000" stroke-width="0.8"/>
<line x1="98.17" y1="342.02" x2="98.17" y2="340.15" stroke="#000" stroke-width="0.9"/>
<line x1="96.17" y1="340.15" x2="100.17" y2="340.15" stroke="#000" stroke-width="0.9"/>
<line x1="116.06" y1="341.96" x2="120.06" y2="341.96" stroke="#000" stroke-width="0.9"/>
<line x1="137.95" y1="329.96" x2="137.95" y2="329.90" stroke="#000" stroke-width="0.9"/>
<line x1="135.95" y1="329.90" x2="139.95" y2="329.90" stroke="#000" stroke-width="0.9"/>
<line x1="157.84" y1="313.26" x2="157.84" y2="311.39" stroke="#000" stroke-width="0.9"/>
<line x1="155.84" y1="311.39" x2="159.84" y2="311.39" stroke="#000" stroke-width="0.9"/>
<line x1="177.73" y1="299.57" x2="177.73" y2="294.68" stroke="#000" stroke-width="0.9"/>
<line x1="175.73" y1="294.68" x2="179.73" y2="294.68" stroke="#000" stroke-width="0.9"/>
<polyline points="38.50,370.30 78.28,346.48 98.17,344.97 118.06,343.77 137.95,332.91 157.84,316.21 177.73,302.52" fill="none" stroke="#000" stroke-width="1.1" stroke-linejoin="round"/>
<circle cx="38.50" cy="370.30" r="2.50" fill="none" stroke="#000" stroke-width="0.8"/>
<circle cx="78.28" cy="346.48" r="2.50" fill="none" stroke="#000" stroke-width="0.8"/>
<circle cx="98.17" cy="344.97" r="2.50" fill="none" stroke="#000" stroke-width="0.8"/>
<circle cx="118.06" cy="343.77" r="2.50" fill="none" stroke="#000" stroke-width="0.8"/>
<circle cx="137.95" cy="332.91" r="2.50" fill="none" stroke="#000" stroke-width="0.8"/>
<circle cx="157.84" cy="316.21" r="2.50" fill="none" stroke="#000" stroke-width="0.8"/>
<circle cx="177.73" cy="302.52" r="2.50" fill="none" stroke="#000" stroke-width="0.8"/>
<line x1="118.06" y1="338.10" x2="118.06" y2="336.29" stroke="#000" stroke-width="0.9"/>
<line x1="116.06" y1="336.29" x2="120.06" y2="336.29" stroke="#000" stroke-width="0.9"/>
<line x1="137.95" y1="318.68" x2="137.95" y2="316.27" stroke="#000" stroke-width="0.9"/>
<line x1="135.95" y1="316.27" x2="139.95" y2="316.27" stroke="#000" stroke-width="0.9"/>
<line x1="157.84" y1="297.58" x2="157.84" y2="293.66" stroke="#000" stroke-width="0.9"/>
<line x1="155.84" y1="293.66" x2="159.84" y2="293.66" stroke="#000" stroke-width="0.9"/>
<line x1="177.73" y1="279.85" x2="177.73" y2="274.42" stroke="#000" stroke-width="0.9"/>
<line x1="175.73" y1="274.42" x2="179.73" y2="274.42" stroke="#000" stroke-width="0.9"/>
<polyline points="38.50,370.30 78.28,351.61 98.17,344.97 118.06,338.10 137.95,318.68 157.84,297.58 177.73,279.85" fill="none" stroke="#000" stroke-width="1.1" stroke-linejoin="round"/>
<circle cx="38.50" cy="370.30" r="2.50" fill="#000"/>
<circle cx="78.28" cy="351.61" r="2.50" fill="#000"/>
<circle cx="98.17" cy="344.97" r="2.50" fill="#000"/>
<circle cx="118.06" cy="338.10" r="2.50" fill="#000"/>
<circle cx="137.95" cy="318.68" r="2.50" fill="#000"/>
<circle cx="157.84" cy="297.58" r="2.50" fill="#000"/>
<circle cx="177.73" cy="279.85" r="2.50" fill="#000"/>
<line x1="85.90" y1="322.70" x2="85.90" y2="335.80" stroke="#000" stroke-width="1.35"/>
<polygon points="84.00,335.30 87.80,335.30 85.90,339.60" fill="#000"/>
<line x1="40.90" y1="235.80" x2="47.90" y2="235.80" stroke="#000" stroke-width="1"/>
<circle cx="44.40" cy="235.80" r="2.50" fill="#000"/>
<text x="52.10" y="238.78" font-size="8.5" text-anchor="start" font-weight="normal">clg + clg</text>
<line x1="40.90" y1="248.25" x2="47.90" y2="248.25" stroke="#000" stroke-width="1"/>
<circle cx="44.40" cy="248.25" r="2.35" fill="none" stroke="#000" stroke-width="0.85"/>
<text x="52.10" y="251.22" font-size="8.5" text-anchor="start" font-weight="normal">clg + αCD96</text>
<line x1="40.90" y1="260.70" x2="47.90" y2="260.70" stroke="#000" stroke-width="1"/>
<polygon points="44.40,257.62 47.20,263.01 41.60,263.01" fill="none" stroke="#000" stroke-width="0.85"/>
<text x="52.10" y="263.68" font-size="8.5" text-anchor="start" font-weight="normal">clg + αTIGIT</text>
<line x1="40.90" y1="273.15" x2="47.90" y2="273.15" stroke="#000" stroke-width="1"/>
<polygon points="44.40,270.27 47.27,273.15 44.40,276.02 41.52,273.15" fill="#000"/>
<text x="52.10" y="276.12" font-size="8.5" text-anchor="start" font-weight="normal">αCD96 + αTIGIT</text>
<line x1="90" y1="235.5" x2="119" y2="235.5" stroke="#000" stroke-width="1"/>
<line x1="102.5" y1="236" x2="102.5" y2="248" stroke="#000" stroke-width="1"/>
<line x1="100" y1="248.5" x2="103" y2="248.5" stroke="#000" stroke-width="1"/>
<line x1="109.5" y1="236" x2="109.5" y2="260" stroke="#000" stroke-width="1"/>
<line x1="99" y1="259.5" x2="110" y2="259.5" stroke="#000" stroke-width="1"/>
<line x1="118.5" y1="236" x2="118.5" y2="274" stroke="#000" stroke-width="1"/>
<line x1="115" y1="273.5" x2="119" y2="273.5" stroke="#000" stroke-width="1"/>
<line x1="103" y1="248.5" x2="130" y2="248.5" stroke="#3a3a3a" stroke-width="1" stroke-dasharray="1,1"/>
<line x1="130.5" y1="248" x2="130.5" y2="274" stroke="#3a3a3a" stroke-width="1" stroke-dasharray="1,1"/>
<line x1="110" y1="259.5" x2="135" y2="259.5" stroke="#3a3a3a" stroke-width="1" stroke-dasharray="1,1"/>
<line x1="134.5" y1="259" x2="134.5" y2="274" stroke="#3a3a3a" stroke-width="1" stroke-dasharray="1,1"/>
<line x1="119" y1="274.5" x2="135" y2="274.5" stroke="#3a3a3a" stroke-width="1" stroke-dasharray="1,1"/>
<circle cx="121.20" cy="247.00" r="1.25" fill="#000"/>
<circle cx="121.20" cy="250.80" r="1.25" fill="#000"/>
<circle cx="121.20" cy="254.80" r="1.25" fill="#000"/>
<circle cx="137.80" cy="262.60" r="1.25" fill="#000"/>
<circle cx="137.80" cy="266.50" r="1.25" fill="#000"/>
<circle cx="137.80" cy="270.40" r="1.25" fill="#000"/>
<text x="239.30" y="231.60" font-size="14.8" text-anchor="start" font-weight="bold">D</text>
<rect x="281.30" y="253.30" width="109.2" height="20.8" fill="#a0a0a0"/>
<rect x="281.30" y="253.30" width="6.33" height="20.8" fill="#000"/>
<rect x="281.30" y="283.60" width="109.2" height="20.8" fill="#a0a0a0"/>
<rect x="281.30" y="283.60" width="9.33" height="20.8" fill="#000"/>
<rect x="281.30" y="313.90" width="109.2" height="20.8" fill="#a0a0a0"/>
<rect x="281.30" y="313.90" width="12.33" height="20.8" fill="#000"/>
<rect x="281.30" y="344.10" width="109.2" height="20.8" fill="#a0a0a0"/>
<rect x="281.30" y="344.10" width="42.47" height="20.8" fill="#000"/>
<line x1="281.5" y1="249" x2="281.5" y2="370" stroke="#000" stroke-width="1"/>
<line x1="281" y1="369.5" x2="412" y2="369.5" stroke="#000" stroke-width="1"/>
<line x1="281.5" y1="369" x2="281.5" y2="372" stroke="#000" stroke-width="1"/>
<text x="281.30" y="382.90" font-size="10.3" text-anchor="middle" font-weight="normal">0</text>
<line x1="308.5" y1="369" x2="308.5" y2="372" stroke="#000" stroke-width="1"/>
<text x="308.40" y="382.90" font-size="10.3" text-anchor="middle" font-weight="normal">25</text>
<line x1="335.5" y1="369" x2="335.5" y2="372" stroke="#000" stroke-width="1"/>
<text x="335.50" y="382.90" font-size="10.3" text-anchor="middle" font-weight="normal">50</text>
<line x1="362.5" y1="369" x2="362.5" y2="372" stroke="#000" stroke-width="1"/>
<text x="362.60" y="382.90" font-size="10.3" text-anchor="middle" font-weight="normal">75</text>
<line x1="389.5" y1="369" x2="389.5" y2="372" stroke="#000" stroke-width="1"/>
<text x="389.70" y="382.90" font-size="10.3" text-anchor="middle" font-weight="normal">100</text>
<text x="347.00" y="408.00" font-size="15.6" text-anchor="middle" font-weight="normal">% of mice</text>
<line x1="278" y1="263.5" x2="282" y2="263.5" stroke="#000" stroke-width="1"/>
<text x="276.40" y="267.40" font-size="11.8" text-anchor="end" font-weight="normal">clg</text>
<text x="393.80" y="268.60" font-size="10.3" text-anchor="start" font-weight="normal">1/18</text>
<line x1="278" y1="294.5" x2="282" y2="294.5" stroke="#000" stroke-width="1"/>
<text x="276.40" y="298.40" font-size="11.8" text-anchor="end" font-weight="normal">αCD96</text>
<text x="393.80" y="298.90" font-size="10.3" text-anchor="start" font-weight="normal">1/12</text>
<line x1="278" y1="324.5" x2="282" y2="324.5" stroke="#000" stroke-width="1"/>
<text x="276.40" y="328.70" font-size="11.8" text-anchor="end" font-weight="normal">αTIGIT</text>
<text x="393.80" y="329.20" font-size="10.3" text-anchor="start" font-weight="normal">2/18</text>
<line x1="278" y1="354.5" x2="282" y2="354.5" stroke="#000" stroke-width="1"/>
<text x="254.40" y="353.70" font-size="11.8" text-anchor="middle" font-weight="normal">αCD96 +</text>
<text x="254.20" y="367.20" font-size="11.8" text-anchor="middle" font-weight="normal">αTIGIT</text>
<text x="393.80" y="359.40" font-size="10.3" text-anchor="start" font-weight="normal">7/18</text>
<text x="335.20" y="362.00" font-size="13.5" text-anchor="middle" font-weight="normal">*</text>
<rect x="435.8" y="289.0" width="11.2" height="10.2" fill="#a0a0a0"/>
<rect x="435.8" y="308.0" width="11.2" height="10.2" fill="#000"/>
<text x="452.30" y="297.90" font-size="10.6" text-anchor="start" font-weight="normal">Tumor-bearing</text>
<text x="452.30" y="316.90" font-size="10.6" text-anchor="start" font-weight="normal">Tumor-free</text>
</svg></body></html>
